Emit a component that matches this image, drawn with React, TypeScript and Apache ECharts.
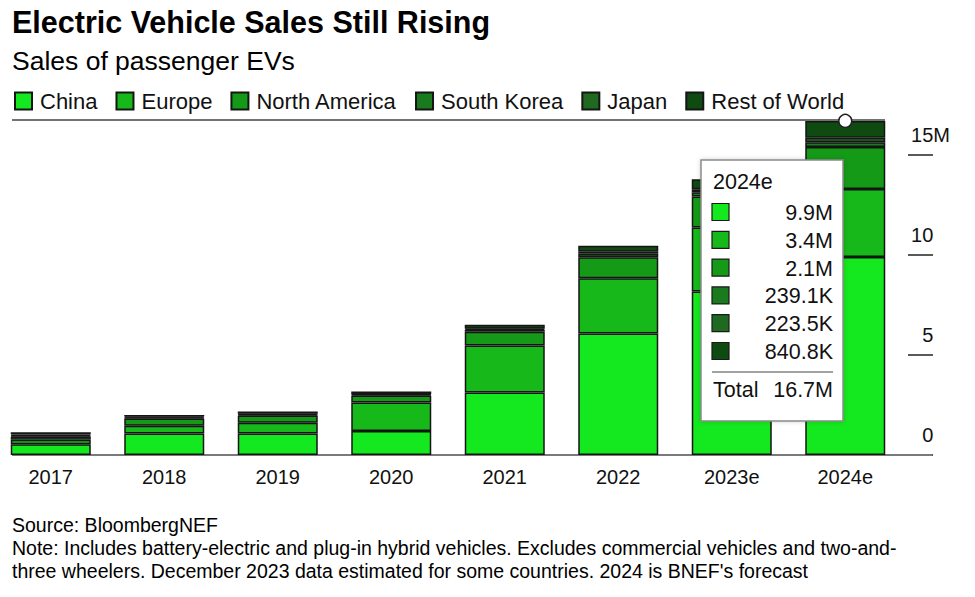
import React, { useEffect, useRef } from "react";
import * as echarts from "echarts";

// Passenger EV sales, millions of vehicles
const categories = ["2017", "2018", "2019", "2020", "2021", "2022", "2023e", "2024e"];
const regionNames = ["China", "Europe", "North America", "South Korea", "Japan", "Rest of World"];
const china = [0.54, 1.08, 1.07, 1.2, 3.12, 6.07, 8.17, 9.9];
const europe = [0.22, 0.38, 0.54, 1.42, 2.36, 2.77, 3.2, 3.4];
const northAmerica = [0.17, 0.37, 0.36, 0.35, 0.68, 1.05, 1.55, 2.1];
const southKorea = [0.03, 0.04, 0.05, 0.05, 0.1, 0.17, 0.22, 0.2391];
const japan = [0.06, 0.05, 0.04, 0.03, 0.05, 0.1, 0.15, 0.2235];
const restOfWorld = [0.12, 0.08, 0.11, 0.12, 0.2, 0.3, 0.5, 0.8408];
const yTicks = [0, 5, 10, 15];
const focusIndex = 7;

const regionColors = ["#14e81e", "#17b81a", "#149a16", "#1a7a1e", "#1f6a20", "#0f4a11"];
const FONT = '"Liberation Sans", Arial, Helvetica, sans-serif';
const INK = "#111111";
// the canvas is shifted left so the first bar sits flush with the text margin
const OX = 6;

const regionValues = [china, europe, northAmerica, southKorea, japan, restOfWorld];
const totals = categories.map((_, i) => regionValues.reduce((s, arr) => s + arr[i], 0));

const fmt = (v: number) => (v >= 1 ? `${v.toFixed(1)}M` : `${(v * 1000).toFixed(1)}K`);

function buildTooltip() {
  const x0 = 701 + OX;
  const y0 = 160;
  const w = 142;
  const h = 261;
  const rowStart = 212;
  const rowStep = 27.8;
  const Z = 100;
  const left = 713 + OX;
  const right = 833 + OX;
  const tipFont = `21.5px ${FONT}`;
  const children: any[] = [
    {
      type: "rect",
      z: Z,
      shape: { x: x0, y: y0, width: w, height: h },
      style: { fill: "#ffffff", stroke: "#8a8a8a", lineWidth: 1.5, shadowBlur: 4, shadowColor: "rgba(0,0,0,0.18)" },
    },
    {
      type: "text",
      z: Z + 1,
      style: { x: left, y: 182, text: categories[focusIndex], font: tipFont, fill: INK, verticalAlign: "middle" },
    },
  ];
  regionNames.forEach((_, r) => {
    const cy = rowStart + rowStep * r;
    children.push({
      type: "rect",
      z: Z + 1,
      shape: { x: left - 1, y: cy - 8.5, width: 17, height: 17 },
      style: { fill: regionColors[r], stroke: "#1a1a1a", lineWidth: 1.2 },
    });
    children.push({
      type: "text",
      z: Z + 1,
      style: {
        x: right,
        y: cy + 1,
        text: fmt(regionValues[r][focusIndex]),
        font: tipFont,
        fill: INK,
        align: "right",
        verticalAlign: "middle",
      },
    });
  });
  children.push({
    type: "line",
    z: Z + 1,
    shape: { x1: left - 1, y1: 372, x2: right, y2: 372 },
    style: { stroke: "#444", lineWidth: 1.2 },
  });
  children.push({
    type: "text",
    z: Z + 1,
    style: { x: left, y: 390, text: "Total", font: tipFont, fill: INK, verticalAlign: "middle" },
  });
  children.push({
    type: "text",
    z: Z + 1,
    style: {
      x: right,
      y: 390,
      text: fmt(totals[focusIndex]),
      font: tipFont,
      fill: INK,
      align: "right",
      verticalAlign: "middle",
    },
  });
  return children;
}

export default function App() {
  const ref = useRef<HTMLDivElement>(null);

  useEffect(() => {
    if (!ref.current) return;
    const chart = echarts.init(ref.current, undefined, { renderer: "svg" });

    const barSeries = regionNames.map((name, r) => ({
      name,
      type: "bar",
      stack: "sales",
      barWidth: 80,
      data: regionValues[r],
      itemStyle: { color: regionColors[r], borderColor: "#151515", borderWidth: 1.5 },
      emphasis: { disabled: true },
      z: 2,
    }));

    chart.setOption({
      animation: false,
      textStyle: { fontFamily: FONT },
      grid: { left: 0, right: 73, top: 115, bottom: 142, containLabel: false },
      legend: {
        data: regionNames,
        left: 14 + OX,
        top: 90,
        padding: 0,
        icon: "rect",
        itemWidth: 17,
        itemHeight: 17,
        itemGap: 18,
        selectedMode: false,
        textStyle: { fontSize: 22, color: INK, fontFamily: FONT, padding: [0, 0, 0, 3] },
      },
      xAxis: {
        type: "category",
        data: categories,
        axisLine: { show: false },
        axisTick: { show: false },
        axisLabel: { fontSize: 20, color: INK, margin: 12, fontFamily: FONT },
      },
      yAxis: {
        type: "value",
        position: "right",
        offset: 6,
        min: 0,
        max: 17,
        splitLine: { show: false },
        axisLine: { show: false },
        axisTick: {
          show: true,
          inside: false,
          length: 25,
          customValues: yTicks,
          lineStyle: { color: "#222", width: 1.5 },
        },
        axisLabel: {
          customValues: yTicks,
          align: "right",
          verticalAlign: "bottom",
          margin: 42,
          padding: [0, 0, 10, 0],
          formatter: (v: number) => (v === 15 ? `{n|${v}}{m|M}` : `{n|${v}}{h|M}`),
          rich: {
            n: { fontSize: 20, color: INK, fontFamily: FONT },
            m: { fontSize: 20, color: INK, fontFamily: FONT },
            h: { fontSize: 20, color: "rgba(0,0,0,0)", fontFamily: FONT },
          },
        },
      },
      series: [
        ...barSeries,
        {
          name: "focus",
          type: "scatter",
          data: [[focusIndex, totals[focusIndex]]],
          symbol: "circle",
          symbolSize: 13,
          itemStyle: { color: "#ffffff", borderColor: "#222", borderWidth: 1.5, opacity: 1 },
          emphasis: { disabled: true },
          z: 10,
        },
      ],
      graphic: [
        {
          type: "text",
          z: 50,
          style: { x: 12 + OX, y: 22, text: "Electric Vehicle Sales Still Rising", font: `bold 30.5px ${FONT}`, fill: "#000", verticalAlign: "middle" },
        },
        {
          type: "text",
          z: 50,
          style: { x: 12 + OX, y: 61, text: "Sales of passenger EVs", font: `26.5px ${FONT}`, fill: "#000", verticalAlign: "middle" },
        },
        {
          type: "line",
          z: 0,
          shape: { x1: 12 + OX, y1: 120, x2: 885 + OX, y2: 120 },
          style: { stroke: "#444", lineWidth: 1.5 },
        },
        {
          type: "line",
          z: 1,
          shape: { x1: 12 + OX, y1: 455, x2: 932 + OX, y2: 455 },
          style: { stroke: "#7a7a7a", lineWidth: 2 },
        },
        {
          type: "text",
          z: 50,
          style: { x: 12 + OX, y: 525, text: "Source: BloombergNEF", font: `19.5px ${FONT}`, fill: "#000", verticalAlign: "middle" },
        },
        {
          type: "text",
          z: 50,
          style: {
            x: 12 + OX,
            y: 548,
            text: "Note: Includes battery-electric and plug-in hybrid vehicles. Excludes commercial vehicles and two-and-",
            font: `19.5px ${FONT}`,
            fill: "#000",
            verticalAlign: "middle",
          },
        },
        {
          type: "text",
          z: 50,
          style: {
            x: 12 + OX,
            y: 571,
            text: "three wheelers. December 2023 data estimated for some countries. 2024 is BNEF's forecast",
            font: `19.5px ${FONT}`,
            fill: "#000",
            verticalAlign: "middle",
          },
        },
        ...buildTooltip(),
      ],
    });

    return () => chart.dispose();
  }, []);

  return (
    <div
      ref={ref}
      style={{ position: "absolute", left: -OX, top: 0, width: 975 + OX, height: 597, background: "#fff" }}
    />
  );
}
